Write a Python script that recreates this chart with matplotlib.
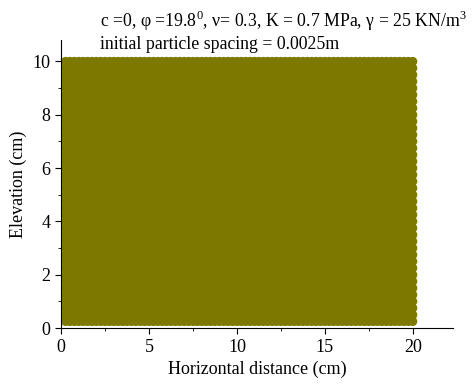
import numpy as np
import matplotlib
matplotlib.use('Agg')
from matplotlib import pyplot as plt

plt.rcParams['font.family'] = ['Liberation Serif', 'DejaVu Serif']
plt.rcParams['mathtext.fontset'] = 'custom'
plt.rcParams['mathtext.rm'] = 'Liberation Serif'

# initial particle layout (cm): 0.0025 m spacing over a 20 x 10 cm block
spacing = 0.25
x_start, x_end = 0.25, 20.0
y_start, y_end = 0.25, 10.0

xs = np.arange(x_start, x_end + spacing / 2, spacing)
ys = np.arange(y_start, y_end + spacing / 2, spacing)
gx, gy = np.meshgrid(xs, ys)

fig = plt.figure(figsize=(4.74, 3.86), dpi=100)
ax = fig.add_axes([0.129, 0.150, 0.827, 0.746])

ax.scatter(gx.ravel(), gy.ravel(), s=44, color='#7d7800', edgecolors='none', clip_on=False)

ax.set_xlim(0, 22.3)
ax.set_ylim(0, 10.8)
ax.set_xticks([0, 5, 10, 15, 20])
ax.set_xticks([2.5, 7.5, 12.5, 17.5], minor=True)
ax.set_yticks([0, 2, 4, 6, 8, 10])
ax.set_yticks([1, 3, 5, 7, 9], minor=True)
ax.spines['top'].set_visible(False)
ax.spines['right'].set_visible(False)
ax.tick_params(which='both', direction='out', labelsize=13)
ax.tick_params(which='major', length=4)
ax.tick_params(which='minor', length=2.5)

ax.set_xlabel('Horizontal distance (cm)', fontsize=13)
ax.set_ylabel('Elevation (cm)', fontsize=13)

fig.text(0.211, 0.945, 'c =0, φ =19.8$^{0}$, ν= 0.3, K = 0.7 MPa, γ = 25 KN/m$^{3}$',
         fontsize=12.8, va='center')
fig.text(0.211, 0.885, 'initial particle spacing = 0.0025m', fontsize=12.8, va='center')

fig.savefig('out.png', dpi=100)
